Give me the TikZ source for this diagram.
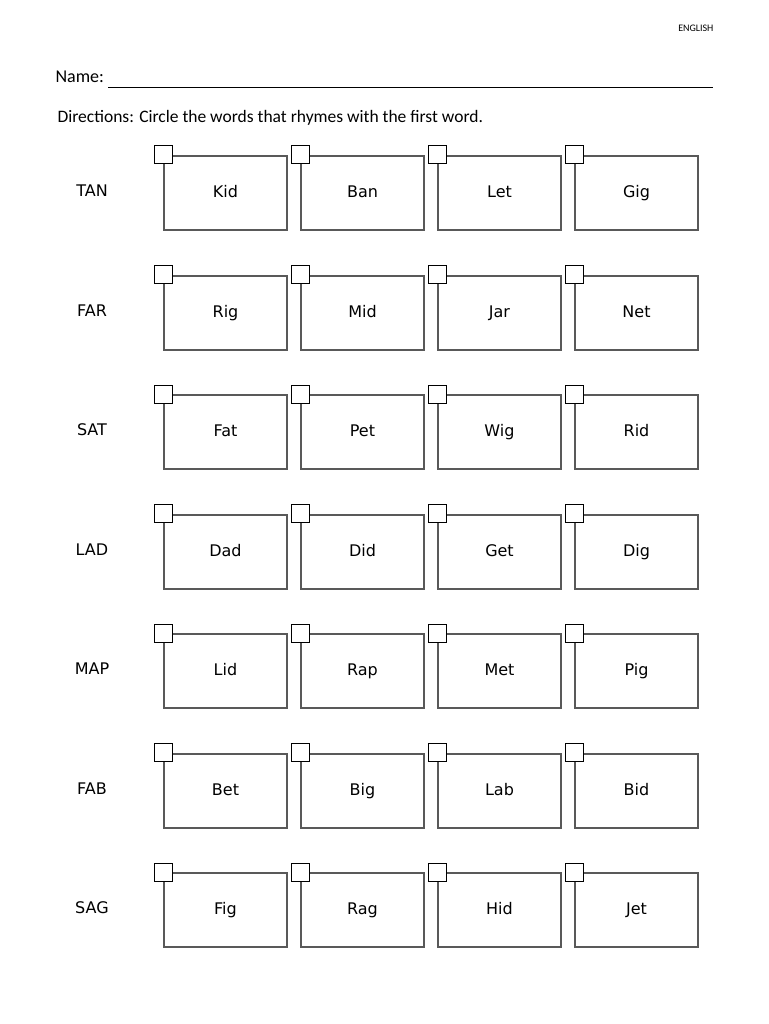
\documentclass[tikz,border=0pt]{standalone}
\usepackage{fontspec}
\setmainfont{Carlito}
\newfontfamily\wordfont{DejaVu Sans}
\begin{document}
\begin{tikzpicture}[x=1pt,y=-1pt,
  wbox/.style={draw=black!65,line width=2pt,minimum width=123pt,minimum height=74pt,anchor=north west,inner sep=0pt,text height=12pt,text depth=3pt,font=\wordfont\fontsize{16}{18}\selectfont},
  cbox/.style={draw=black,fill=white,line width=1pt,minimum size=18pt,inner sep=0pt},
  lab/.style={font=\wordfont\fontsize{16}{18}\selectfont,text height=12pt,text depth=3pt}]
\useasboundingbox (0,0) rectangle (768,1024);
\node[anchor=east,font=\fontsize{10}{12}\selectfont] (eng) at (717,28) {ENGLISH};
\node[anchor=west,font=\fontsize{18}{21}\selectfont] (name) at (52,77) {Name:};
\coordinate (l1) at (108,87); \coordinate (l2) at (713,87);
\draw[line width=0.7pt] (l1) -- (l2);
\node[anchor=west,font=\fontsize{17.5}{20}\selectfont] (dir) at (54,118) {Directions: Circle the words that rhymes with the first word.};
\foreach \r/\lw/\a/\b/\c/\d in {0/TAN/Kid/Ban/Let/Gig,1/FAR/Rig/Mid/Jar/Net,2/SAT/Fat/Pet/Wig/Rid,3/LAD/Dad/Did/Get/Dig,4/MAP/Lid/Rap/Met/Pig,5/FAB/Bet/Big/Lab/Bid,6/SAG/Fig/Rag/Hid/Jet}{
  \pgfmathsetmacro{\yy}{155+119.5*\r}
  \node[lab] (lab\r) at (92,\yy+37) {\lw};
  \foreach \k/\w in {0/\a,1/\b,2/\c,3/\d}{
    \pgfmathsetmacro{\xx}{163+137*\k}
    \node[wbox] (w\r\k) at (\xx,\yy) {\w};
    \node[cbox] (c\r\k) at (\xx,\yy) {};
  }
}
\end{tikzpicture}
\end{document}
